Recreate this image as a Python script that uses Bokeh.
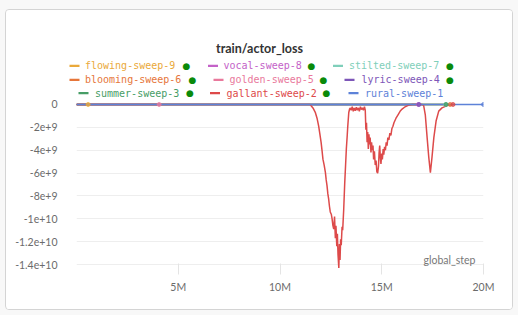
import numpy as np
from bokeh.plotting import figure
from bokeh.models import Label, FixedTicker
from bokeh.core.properties import value
from bokeh.layouts import column
from bokeh.embed import file_html
from bokeh.resources import INLINE

# ---------------- data ----------------
run_names = ["flowing-sweep-9", "vocal-sweep-8", "stilted-sweep-7",
             "blooming-sweep-6", "golden-sweep-5", "lyric-sweep-4",
             "summer-sweep-3", "gallant-sweep-2", "rural-sweep-1"]
run_colors = ["#eaa93a", "#c462c8", "#7fcfba",
              "#e6763a", "#e9799c", "#7d56b8",
              "#479d66", "#dd4a4a", "#5d82d8"]
run_running = [True, True, True, True, True, True, True, True, False]
run_last_step_M = [0.57, 16.80, 18.14, 18.36, 4.06, 16.83, 18.16, 18.50, 20.0]
run_last_loss_e9 = [0.0, 0.0, 0.0, 0.0, 0.0, 0.0, 0.0, 0.0, 0.0]

gallant_step_M = [
    0.0, 11.0, 11.48, 11.62, 11.74, 11.82, 11.90, 11.96, 12.02, 12.07,
    12.11, 12.17, 12.23, 12.27, 12.31, 12.35, 12.39, 12.43, 12.47, 12.52,
    12.56, 12.60, 12.64, 12.68, 12.72, 12.75, 12.79, 12.82, 12.85, 12.89,
    12.92, 12.95, 12.98, 13.01, 13.05, 13.08, 13.13, 13.18, 13.22, 13.26,
    13.30, 13.33, 13.38, 13.42, 13.46, 13.50, 13.55, 13.60, 13.65, 13.70,
    13.75, 13.80, 13.85, 13.90, 13.95, 14.00, 14.05, 14.10, 14.15, 14.19,
    14.22, 14.25, 14.28, 14.31, 14.34, 14.37, 14.40, 14.43, 14.47, 14.50,
    14.53, 14.57, 14.60, 14.64, 14.68, 14.72, 14.76, 14.80, 14.84, 14.87,
    14.90, 14.93, 14.96, 15.00, 15.03, 15.07, 15.10, 15.14, 15.18, 15.22,
    15.26, 15.30, 15.35, 15.40, 15.45, 15.50, 15.55, 15.60, 15.70, 15.80,
    15.90, 16.00, 16.15, 16.30, 16.50, 17.00, 17.06, 17.14, 17.23, 17.31,
    17.39, 17.47, 17.56, 17.67, 17.80, 17.96, 18.21, 18.50]
gallant_loss_e9 = [
    0.0, 0.0, 0.0, -0.3, -0.72, -1.2, -1.89, -2.6, -3.32, -4.1,
    -4.78, -5.3, -5.94, -6.6, -7.1, -7.8, -8.26, -8.9, -9.4, -9.6,
    -10.0, -10.6, -10.9, -9.8, -11.7, -10.6, -12.4, -11.3, -13.1, -14.3,
    -12.2, -13.6, -11.8, -12.3, -10.7, -11.0, -9.2, -6.9, -5.4, -3.9,
    -2.8, -1.9, -0.7, -0.4, -0.3, -0.5, -0.2, -0.6, -0.3, -0.55,
    -0.25, -0.5, -0.3, -0.6, -0.2, -0.45, -0.3, -0.5, -0.2, -0.5,
    -2.2, -1.6, -3.3, -2.4, -3.9, -2.6, -3.5, -2.9, -4.2, -3.3,
    -4.0, -3.6, -4.8, -4.1, -5.3, -4.9, -5.9, -6.0, -5.4, -4.2,
    -3.6, -4.6, -5.2, -4.3, -4.8, -3.9, -4.4, -3.7, -4.0, -3.3,
    -3.6, -2.9, -3.1, -2.5, -2.7, -2.1, -1.9, -1.6, -1.2, -0.9,
    -0.6, -0.4, -0.2, -0.08, 0.0, 0.0, -0.1, -0.9, -2.9, -4.6,
    -5.97, -4.6, -2.9, -1.45, -0.58, -0.3, -0.1, 0.0]

x_tick_M = [5, 10, 15, 20]
x_tick_labels = ["5M", "10M", "15M", "20M"]
y_tick_e9 = [0, -2, -4, -6, -8, -10, -12, -14]
y_tick_labels = ["0", "-2e+9", "-4e+9", "-6e+9", "-8e+9", "-1e+10", "-1.2e+10", "-1.4e+10"]

title_text = "train/actor_loss"
x_axis_name = "global_step"

# ---------------- layout constants (page px) ----------------
CARD_LEFT = 5
CARD_TOP = 9
HEADER_BOTTOM = 98
HEADER_H = HEADER_BOTTOM - CARD_TOP
FRAME_LEFT = 75
FRAME_TOP = 100
FRAME_BOTTOM = 273

def hx(X):
    return X - CARD_LEFT

def hy(Y):
    return HEADER_BOTTOM - Y

legend_rows_y = [64.3, 78.3, 91.7]
# (swatch_left, text_left, dot_center) for each legend item, in run_names order
legend_pos = [(68, 83.5, 185), (206.5, 222, 310), (331.5, 347.5, 448.5),
              (68, 83.5, 191), (212, 228, 322), (343, 360, 448.5),
              (77, 93.5, 188.5), (208.5, 225, 325), (347, 363.5, None)]

M = 1e6
B = 1e9

# ---------------- header (title + legend) ----------------
header = figure(width=506, height=HEADER_H, output_backend="svg", toolbar_location=None,
                x_range=(0, 506), y_range=(0, HEADER_H),
                min_border=0, min_border_left=0, min_border_right=0,
                min_border_top=0, min_border_bottom=0, title=None)
header.axis.visible = False
header.grid.visible = False
header.outline_line_color = None
header.background_fill_color = "white"
header.border_fill_color = "white"
header.frame_align = False

header.text(x=[hx(258)], y=[hy(47)], text=[title_text], text_align="center",
            text_baseline="middle", text_font=value("Lato"), text_font_style="bold",
            text_font_size="12.5px", text_color="#333333")

sw_x0, sw_x1, sw_y, tx_x, tx_y, dot_x, dot_y = [], [], [], [], [], [], []
for i, name in enumerate(run_names):
    yy = legend_rows_y[i // 3]
    sw, tx, dot = legend_pos[i]
    sw_x0.append(hx(sw)); sw_x1.append(hx(sw + 10)); sw_y.append(hy(yy))
    tx_x.append(hx(tx)); tx_y.append(hy(yy))
    if run_running[i]:
        dot_x.append(hx(dot)); dot_y.append(hy(yy))

header.segment(x0=sw_x0, y0=sw_y, x1=sw_x1, y1=sw_y, line_color=run_colors, line_width=2.2)
header.text(x=tx_x, y=tx_y, text=run_names, text_color=run_colors, text_align="left",
            text_baseline="middle", text_font=value("DejaVu Sans Mono"), text_font_size="10px")
header.text(x=dot_x, y=dot_y, text=["\u25cf"] * len(dot_x), text_color="#0a8a0a",
            text_align="center", text_baseline="middle", text_font=value("DejaVu Sans"),
            text_font_size="9px")

# ---------------- main plot ----------------
p = figure(width=506, height=299 - HEADER_H, output_backend="svg", toolbar_location=None,
           x_range=(0, 20 * M), y_range=(-14.87 * B, 0.26 * B),
           min_border_left=70, min_border_right=29, min_border_top=FRAME_TOP - HEADER_BOTTOM,
           min_border_bottom=35, title=None)
p.frame_align = False
p.outline_line_color = None
p.background_fill_color = "white"
p.border_fill_color = "white"

p.xaxis.ticker = FixedTicker(ticks=[v * M for v in x_tick_M])
p.xaxis.major_label_overrides = {float(v * M): l for v, l in zip(x_tick_M, x_tick_labels)}
p.yaxis.ticker = FixedTicker(ticks=[v * B for v in y_tick_e9])
p.yaxis.major_label_overrides = {float(v * B): l for v, l in zip(y_tick_e9, y_tick_labels)}
for ax in (p.xaxis, p.yaxis):
    ax.axis_line_color = None
    ax.minor_tick_line_color = None
    ax.major_label_text_font = "Lato"
    ax.major_label_text_font_size = "10.5px"
    ax.major_label_text_color = "#6b6b6b"
p.yaxis.major_tick_line_color = None
p.yaxis.major_label_standoff = 13
p.xaxis.major_tick_in = 11
p.xaxis.major_tick_out = 0
p.xaxis.major_tick_line_color = "#e4e4e4"
p.xaxis.major_label_standoff = 6
p.xgrid.grid_line_color = None
p.ygrid.grid_line_color = "#eeeeee"
p.ygrid.grid_line_width = 1

for i, name in enumerate(run_names):
    if name in ("gallant-sweep-2", "rural-sweep-1"):
        continue
    p.line([0, run_last_step_M[i] * M], [0, run_last_loss_e9[i] * B],
           line_color=run_colors[i], line_width=1.5)
gi = run_names.index("gallant-sweep-2")
p.line(np.array(gallant_step_M) * M, np.array(gallant_loss_e9) * B,
       line_color=run_colors[gi], line_width=1.5)
ri = run_names.index("rural-sweep-1")
p.line([0, run_last_step_M[ri] * M], [0, run_last_loss_e9[ri] * B],
       line_color=run_colors[ri], line_width=1.5)
p.scatter(np.array(run_last_step_M) * M, np.array(run_last_loss_e9) * B,
          color=run_colors, size=4, alpha=0.75)

p.add_layout(Label(x=474 - FRAME_LEFT, y=FRAME_BOTTOM - 258, x_units="screen", y_units="screen",
                   text=x_axis_name, text_align="right", text_baseline="middle",
                   text_font="Lato", text_font_size="10.5px", text_color="#777777"))

card = column(header, p, spacing=0, margin=(CARD_TOP, 7, 7, CARD_LEFT),
              styles={"border": "1px solid #d4d4d4", "border-radius": "4px",
                      "background-color": "white", "overflow": "hidden"})
layout = column(card, width=518, height=315, styles={"background-color": "#f8f8f8"})

open("out.html", "w").write(file_html(layout, INLINE))
